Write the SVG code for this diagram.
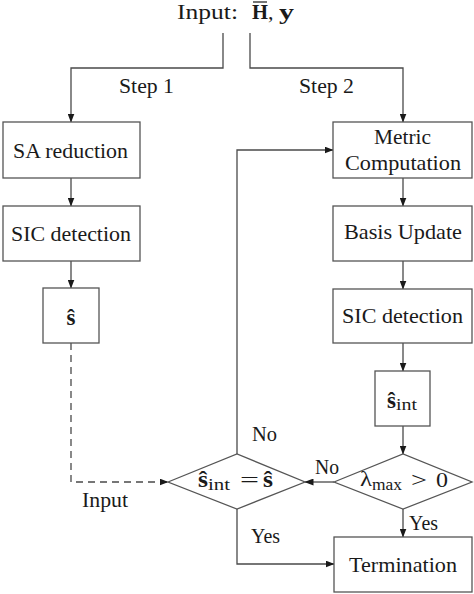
<svg xmlns="http://www.w3.org/2000/svg" width="474" height="594" viewBox="0 0 474 594">
  <style>
    text { font-family: "Liberation Serif", "DejaVu Serif", serif; fill: #1a1a1a; }
    .lbl { font-size: 21px; }
    .node { fill: #ffffff; stroke: #555555; stroke-width: 1.3; }
    .edge { fill: none; stroke: #4a4a4a; stroke-width: 1.3; marker-end: url(#arrow); }
    .dash { stroke-dasharray: 7 5; }
    .b { font-weight: bold; }
    .sub { font-size: 16px; }
  </style>
  <defs>
    <marker id="arrow" markerWidth="9" markerHeight="7" refX="8.5" refY="3.5" orient="auto" markerUnits="userSpaceOnUse">
      <path d="M0,0 L9,3.5 L0,7 z" fill="#1a1a1a"/>
    </marker>
  </defs>

  <!-- heading -->
  <g id="input">
    <text x="177" y="19" font-size="22" textLength="61" lengthAdjust="spacingAndGlyphs">Input:</text>
    <text x="252" y="19" font-size="22" class="b" textLength="16" lengthAdjust="spacingAndGlyphs">H</text>
    <text x="268" y="19" font-size="22">,</text>
    <text x="279" y="19" font-size="22" class="b" textLength="15" lengthAdjust="spacingAndGlyphs">y</text>
    <line x1="253" y1="2" x2="267" y2="2" stroke="#1a1a1a" stroke-width="1.2"/>
  </g>

  <!-- connectors -->
  <g id="connectors">
    <polyline class="edge" points="223,33 223,68 71,68 71,122"/>
    <polyline class="edge" points="250,33 250,68 403,68 403,122"/>
    <line class="edge" x1="71" y1="178" x2="71" y2="206"/>
    <line class="edge" x1="71" y1="261" x2="71" y2="288"/>
    <polyline class="edge dash" points="71,343 71,482 168,482"/>
    <line class="edge" x1="403" y1="178" x2="403" y2="206"/>
    <line class="edge" x1="403" y1="261" x2="403" y2="289"/>
    <line class="edge" x1="403" y1="343" x2="403" y2="371"/>
    <line class="edge" x1="403" y1="426" x2="403" y2="454"/>
    <line class="edge" x1="403" y1="509" x2="403" y2="537"/>
    <line class="edge" x1="334" y1="482" x2="305" y2="482"/>
    <polyline class="edge" points="237,454 237,150 333,150"/>
    <polyline class="edge" points="237,509 237,564 334,564"/>
    <text class="lbl" x="119" y="93" textLength="55" lengthAdjust="spacingAndGlyphs">Step 1</text>
    <text class="lbl" x="299" y="93" textLength="55" lengthAdjust="spacingAndGlyphs">Step 2</text>
    <text class="lbl" x="82" y="507" textLength="46" lengthAdjust="spacingAndGlyphs">Input</text>
    <text class="lbl" x="252" y="441" textLength="25" lengthAdjust="spacingAndGlyphs">No</text>
    <text class="lbl" x="315" y="474" textLength="24" lengthAdjust="spacingAndGlyphs">No</text>
    <text class="lbl" x="251" y="543" textLength="29" lengthAdjust="spacingAndGlyphs">Yes</text>
    <text class="lbl" x="409" y="530" textLength="29" lengthAdjust="spacingAndGlyphs">Yes</text>
  </g>

  <!-- step 1 -->
  <g id="sa-reduction">
    <rect class="node" x="3" y="122" width="137" height="56"/>
    <text class="lbl" x="13" y="158" textLength="115" lengthAdjust="spacingAndGlyphs">SA reduction</text>
  </g>
  <g id="sic-detection-1">
    <rect class="node" x="3" y="206" width="137" height="55"/>
    <text class="lbl" x="11" y="241" textLength="120" lengthAdjust="spacingAndGlyphs">SIC detection</text>
  </g>
  <g id="s-hat">
    <rect class="node" x="43" y="288" width="56" height="55"/>
    <text class="b" x="71" y="325" font-size="23" text-anchor="middle">ŝ</text>
  </g>

  <!-- step 2 -->
  <g id="metric-computation">
    <rect class="node" x="333" y="122" width="139" height="56"/>
    <text class="lbl" x="374" y="144" textLength="57" lengthAdjust="spacingAndGlyphs">Metric</text>
    <text class="lbl" x="345" y="170" textLength="116" lengthAdjust="spacingAndGlyphs">Computation</text>
  </g>
  <g id="basis-update">
    <rect class="node" x="333" y="206" width="139" height="55"/>
    <text class="lbl" x="344" y="239" textLength="118" lengthAdjust="spacingAndGlyphs">Basis Update</text>
  </g>
  <g id="sic-detection-2">
    <rect class="node" x="333" y="289" width="139" height="54"/>
    <text class="lbl" x="342" y="323" textLength="121" lengthAdjust="spacingAndGlyphs">SIC detection</text>
  </g>
  <g id="s-int">
    <rect class="node" x="375" y="371" width="55" height="55"/>
    <text x="387" y="408" font-size="23" class="b" textLength="9" lengthAdjust="spacingAndGlyphs">ŝ</text>
    <text x="396" y="410" class="sub" textLength="21" lengthAdjust="spacingAndGlyphs">int</text>
  </g>
  <g id="lambda-check">
    <polygon class="node" points="334,482 403,454 472,482 403,509"/>
    <text x="360" y="486" font-size="22" textLength="12" lengthAdjust="spacingAndGlyphs">λ</text>
    <text x="372" y="490" class="sub" textLength="30" lengthAdjust="spacingAndGlyphs">max</text>
    <text x="411" y="487" font-size="22" textLength="16" lengthAdjust="spacingAndGlyphs">&gt;</text>
    <text x="436" y="487" font-size="22" textLength="12" lengthAdjust="spacingAndGlyphs">0</text>
  </g>
  <g id="equality-check">
    <polygon class="node" points="168,482 237,454 305,482 237,509"/>
    <text x="198" y="487" font-size="23" class="b" textLength="10" lengthAdjust="spacingAndGlyphs">ŝ</text>
    <text x="208" y="490" class="sub" textLength="22" lengthAdjust="spacingAndGlyphs">int</text>
    <text x="240" y="487" font-size="22" textLength="19" lengthAdjust="spacingAndGlyphs">=</text>
    <text x="263" y="487" font-size="23" class="b" textLength="10" lengthAdjust="spacingAndGlyphs">ŝ</text>
  </g>
  <g id="termination">
    <rect class="node" x="334" y="537" width="138" height="55"/>
    <text class="lbl" x="349" y="572" textLength="108" lengthAdjust="spacingAndGlyphs">Termination</text>
  </g>
</svg>
